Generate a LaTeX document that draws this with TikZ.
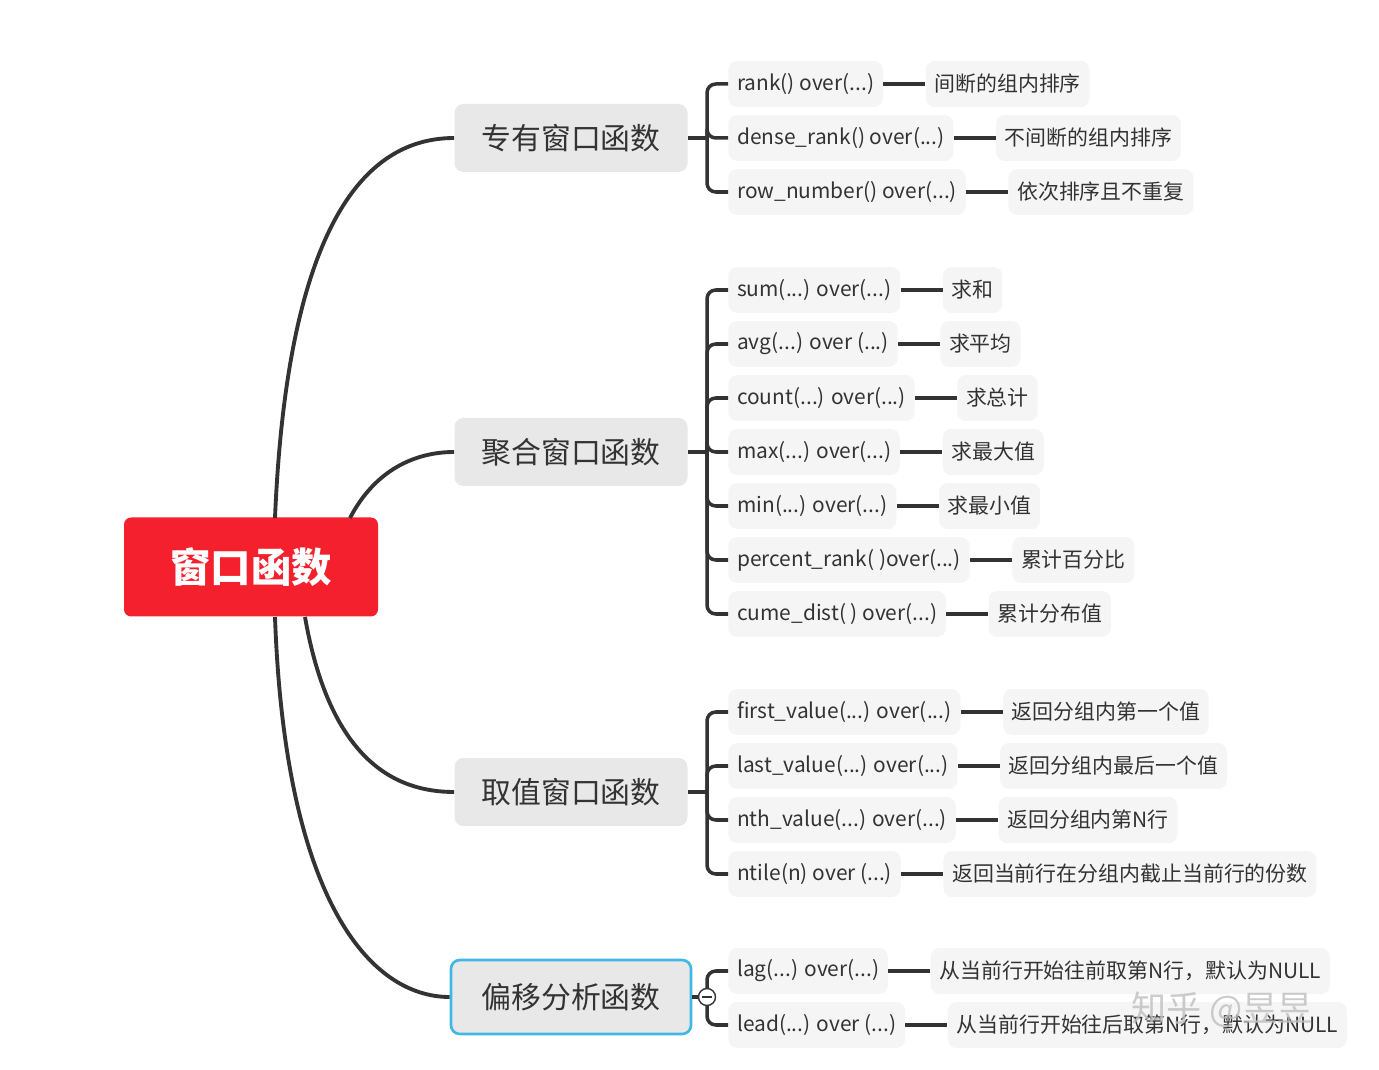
\documentclass[tikz,border=0pt]{standalone}
\usepackage{fontspec}
\setmainfont{Noto Sans CJK SC}
\begin{document}
\begin{tikzpicture}[x=0.02cm,y=-0.02cm,
 ln/.style={draw=black!80,line width=2.2pt},
 br/.style={draw=black!80,line width=2pt,rounded corners=5pt},
 root/.style={rounded corners=4pt,minimum width=254*0.02cm,minimum height=99*0.02cm,text=white,font=\bfseries\fontsize{23}{25}\selectfont},
 branch/.style={fill=black!9,rounded corners=5pt,minimum width=233*0.02cm,minimum height=68*0.02cm,text=black!80,font=\fontsize{17}{19}\selectfont},
 leaf/.style={fill=black!4,rounded corners=5pt,minimum height=46*0.02cm,inner xsep=5pt,anchor=west,text=black!80,font=\fontsize{11.9}{13}\selectfont},
]
\useasboundingbox (0,0) rectangle (1379,1070);
\definecolor{rootred}{HTML}{F4202D}
\node[root,fill=rootred] (root) at (251,567) {窗口函数};
\node[branch] (b1) at (571,138) {专有窗口函数};
\node[branch] (b2) at (571,452) {聚合窗口函数};
\node[branch] (b3) at (571,792) {取值窗口函数};
\node[branch,draw={rgb,255:red,63;green,184;blue,230},line width=1.5pt,minimum width=240*0.02cm,minimum height=74*0.02cm] (b4) at (571,997) {偏移分析函数};
\coordinate (r1) at (275,518);
\coordinate (r2) at (350,518);
\coordinate (r3) at (305,617);
\coordinate (r4) at (275,617);
\draw[ln] (r1) .. controls (285,280) and (340,138) .. (b1.west);
\draw[ln] (r2) .. controls (375,470) and (415,452) .. (b2.west);
\draw[ln] (r3) .. controls (330,760) and (395,792) .. (b3.west);
\draw[ln] (r4) .. controls (285,900) and (370,997) .. (b4.west);
\newcommand\myleaf[5]{%
 \node[leaf] (#1) at (728,#2) {#3};
 \node[leaf] (#1d) at ([xshift=42*0.02cm]#1.east) {#4};
 \draw[ln] (#1.east) -- (#1d.west);
 \draw[br] (707,#5) |- (#1.west);}
\coordinate (j1) at (707,138);
\draw[ln] (b1.east) -- (j1);
\myleaf{a1}{84}{rank() over(...)}{间断的组内排序}{138}
\myleaf{a2}{138}{dense\_rank() over(...)}{不间断的组内排序}{138}
\myleaf{a3}{192}{row\_number() over(...)}{依次排序且不重复}{138}
\coordinate (j2) at (707,452);
\draw[ln] (b2.east) -- (j2);
\myleaf{c1}{290}{sum(...) over(...)}{求和}{452}
\myleaf{c2}{344}{avg(...) over (...)}{求平均}{452}
\myleaf{c3}{398}{count(...) over(...)}{求总计}{452}
\myleaf{c4}{452}{max(...) over(...)}{求最大值}{452}
\myleaf{c5}{506}{min(...) over(...)}{求最小值}{452}
\myleaf{c6}{560}{percent\_rank( )over(...)}{累计百分比}{452}
\myleaf{c7}{614}{cume\_dist( ) over(...)}{累计分布值}{452}
\coordinate (j3) at (707,792);
\draw[ln] (b3.east) -- (j3);
\myleaf{d1}{712}{first\_value(...) over(...)}{返回分组内第一个值}{792}
\myleaf{d2}{766}{last\_value(...) over(...)}{返回分组内最后一个值}{792}
\myleaf{d3}{820}{nth\_value(...) over(...)}{返回分组内第N行}{792}
\myleaf{d4}{874}{ntile(n) over (...)}{返回当前行在分组内截止当前行的份数}{792}
\coordinate (j4) at (707,997);
\draw[ln] (b4.east) -- (j4);
\myleaf{e1}{971}{lag(...) over(...)}{从当前行开始往前取第N行，默认为NULL}{997}
\myleaf{e2}{1025}{lead(...) over (...)}{从当前行开始往后取第N行，默认为NULL}{997}
\node[circle,draw=black!80,fill=white,line width=0.8pt,minimum size=17*0.02cm,inner sep=0pt] (col) at (j4) {};
\draw[black!80,line width=0.8pt] ([xshift=-5*0.02cm]col.center) -- ([xshift=5*0.02cm]col.center);
\node[text=black!25,font=\fontsize{20}{22}\selectfont,anchor=west,opacity=0.8] (wm) at (1125,1010) {知乎 @昱昱};
\end{tikzpicture}
\end{document}
